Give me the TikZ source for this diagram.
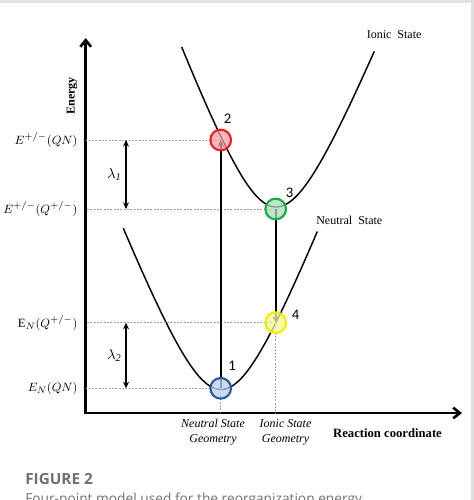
\documentclass[tikz,border=0pt]{standalone}
\usepackage{fontspec}
\setmainfont{Liberation Serif}
\newfontfamily\numfont{Carlito}
\newfontfamily\capfont{Open Sans}
\usetikzlibrary{positioning, calc, arrows.meta}

\definecolor{redline}{RGB}{228,32,42}
\definecolor{redfill}{RGB}{244,160,164}
\definecolor{greenline}{RGB}{30,166,74}
\definecolor{greenfill}{RGB}{170,222,186}
\definecolor{yellowline}{RGB}{240,238,0}
\definecolor{yellowfill}{RGB}{246,246,150}
\definecolor{blueline}{RGB}{46,90,150}
\definecolor{bluefill}{RGB}{184,208,238}
\definecolor{capgray}{RGB}{112,112,112}

\begin{document}
\begin{tikzpicture}[
        % one unit = one pixel of the 474x500 frame, y grows downwards
        x=0.75pt, y=-0.75pt,
        every node/.style={font=\fontsize{9}{11}\selectfont, inner sep=0pt},
        axis/.style={line width=2pt, {Straight Barb[length=5pt, width=8pt]}-{Straight Barb[length=5pt, width=8pt]}},
        curve/.style={line width=1.1pt},
        guide/.style={gray!75, line width=0.6pt, dash pattern=on 1.5pt off 1pt},
        jump/.style={line width=1.5pt, -{Stealth[length=5pt, width=4.5pt]}},
        gap/.style={line width=0.8pt, {Stealth[length=5pt, width=4.5pt]}-{Stealth[length=5pt, width=4.5pt]}},
        point/.style={circle, minimum size=15.5pt, line width=1.6pt, fill opacity=0.75},
        numlab/.style={font=\numfont\fontsize{11}{13}\selectfont},
        ylab/.style={anchor=east, xshift=-6pt, font=\fontsize{9.5}{11}\selectfont},
        geolab/.style={align=center, font=\itshape\fontsize{9}{11.25}\selectfont},
        statelab/.style={font=\fontsize{9}{11}\selectfont}
    ]

    % --- Frame ---
    \useasboundingbox (0,0) rectangle (474,500);
    \clip (0,0) rectangle (474,500);
    \fill[gray!22] (0,0) rectangle (474,3);
    \fill[gray!25] (471,0) rectangle (474,500);

    % --- Axes ---
    \coordinate (O) at (85.7,413);
    \coordinate (Ytop) at (85.7,38);
    \coordinate (Xend) at (462,413);
    \coordinate (lam) at (126,413);
    \draw[axis] (Ytop) -- (O) -- (Xend);
    \node[rotate=90, font=\bfseries\fontsize{9}{11}\selectfont] (energy) at (72,96) {Energy};

    % --- Potential curves ---
    \draw[curve] plot[domain=-94.3:0, samples=60, smooth] ({276+\x}, {207-121*(sqrt(1+(\x/45)^2)-1)})
        -- plot[domain=0:98.3, samples=60, smooth] ({276+\x}, {207-111*(sqrt(1+(\x/45)^2)-1)});
    \draw[curve] plot[domain=-97.7:96.3, samples=100, smooth] ({221+\x}, {389.5-116*(sqrt(1+(\x/45)^2)-1)});
    \node[statelab, anchor=west] (ionic) at (366.5,35) {Ionic\ \ State};
    \node[statelab, anchor=west] (neutral) at (316,220.7) {Neutral\ \ State};

    % --- Four points ---
    \coordinate (c1) at (220.7,388.3);
    \coordinate (c2) at (220.7,140);
    \coordinate (c3) at (275.7,209);
    \coordinate (c4) at (275.7,322.7);

    % dotted guides to the axes
    \draw[guide] (c2) -- (O |- c2);
    \draw[guide] (c3) -- (O |- c3);
    \draw[guide] (c4) -- (O |- c4);
    \draw[guide] (c1) -- (O |- c1);
    \draw[guide] (c1) -- (c1 |- O);
    \draw[guide] (c4) -- (c4 |- O);

    % vertical transitions
    \draw[jump] (c1) -- (c2);
    \draw[jump] (c3) -- (c4);

    \node[point, draw=blueline, fill=bluefill] (p1) at (c1) {};
    \node[point, draw=redline, fill=redfill] (p2) at (c2) {};
    \node[point, draw=greenline, fill=greenfill] (p3) at (c3) {};
    \node[point, draw=yellowline, fill=yellowfill] (p4) at (c4) {};

    \node[numlab] (n1) at ($(p1)+(11.3,-23)$) {1};
    \node[numlab] (n2) at ($(p2)+(7,-21)$) {2};
    \node[numlab] (n3) at ($(p3)+(14,-16)$) {3};
    \node[numlab] (n4) at ($(p4)+(20,-8)$) {4};

    % --- Reorganization gaps ---
    \draw[gap] (lam |- c2) -- node[left=3pt, font=\fontsize{11}{13}\selectfont] (l1) {$\lambda_{\mathit{1}}$} (lam |- c3);
    \draw[gap] (lam |- c4) -- node[left=3pt, font=\fontsize{11}{13}\selectfont] (l2) {$\lambda_{\mathit{2}}$} (lam |- c1);

    % --- Energy labels ---
    \node[ylab] (e2) at (O |- c2) {$E^{+/-}(QN)$};
    \node[ylab] (e3) at (O |- c3) {$E^{+/-}(Q^{+/-})$};
    \node[ylab] (e4) at (O |- c4) {$\mathrm{E}_N(Q^{+/-})$};
    \node[ylab] (e1) at (O |- c1) {$E_N(QN)$};

    % --- Reaction coordinate labels ---
    \node[geolab] (g1) at (213,432.5) {Neutral State\\Geometry};
    \node[geolab] (g2) at (285.5,432.5) {Ionic State\\Geometry};
    \node[font=\bfseries\fontsize{9.5}{11}\selectfont] (rc) at (387.5,432.7) {Reaction coordinate};

    % --- Caption ---
    \node[anchor=base west, text=capgray, font=\capfont\bfseries\fontsize{11.5}{13}\selectfont] (fig) at (25,484) {FIGURE 2};
    \node[anchor=base west, text=capgray, font=\capfont\fontsize{10.3}{12}\selectfont] (cap) at (25,503.5) {Four-point model used for the reorganization energy};

\end{tikzpicture}
\end{document}
